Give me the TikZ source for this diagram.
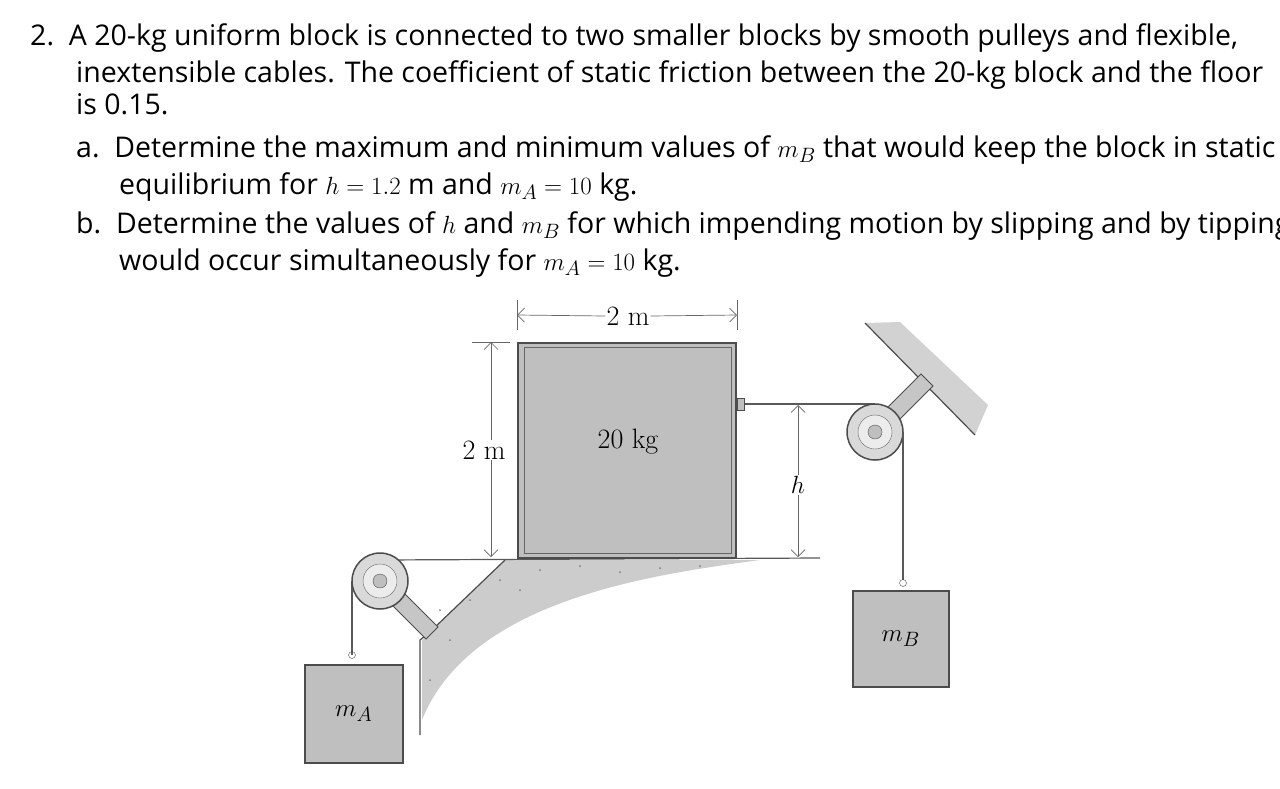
\documentclass[tikz,border=0pt]{standalone}
\usepackage{fontspec}
\setmainfont{Open Sans}
\newfontfamily\lmr{Latin Modern Roman}
\usepackage{amsmath}
\usetikzlibrary{arrows.meta}
\begin{document}
\begin{tikzpicture}[x=1pt,y=-1pt,
  txt/.style={anchor=base west,inner sep=0,font=\fontsize{28.5}{32}\selectfont},
  lbl/.style={inner sep=1,font=\fontsize{28}{30}\selectfont\lmr},
  blk/.style={draw=black!70,line width=1.5,fill=gray!50},
  rope/.style={draw=black!65,line width=1.2},
  dim/.style={draw=black!60,line width=0.7},
  dimar/.style={dim,-{Straight Barb[length=7pt]}},
  pul/.style={draw=black!70,line width=1.5,fill=gray!30},
  arm/.style={draw=black!70,line width=1,fill=gray!45}]
\useasboundingbox (0,0) rectangle (1280,788);
% text
\node[txt] (t1) at (30,45) {2.\ \ A 20-kg uniform block is connected to two smaller blocks by smooth pulleys and flexible,};
\node[txt] (t2) at (76,82) {inextensible cables. The coefficient of static friction between the 20-kg block and the floor};
\node[txt] (t3) at (76,114) {is 0.15.};
\node[txt] (a1) at (76,157) {a.\ \ Determine the maximum and minimum values of $m_B$ that would keep the block in static};
\node[txt] (a2) at (119,194) {equilibrium for $h=1.2$ m and $m_A=10$ kg.};
\node[txt] (b1) at (76,233) {b.\ \ Determine the values of $h$ and $m_B$ for which impending motion by slipping and by tipping};
\node[txt] (b2) at (119,270) {would occur simultaneously for $m_A=10$ kg.};
% ground
\fill[gray!40] (505,560) -- (760,560) .. controls (650,575) and (470,600) .. (422,720) -- (422,640) -- (432,630) -- cycle;
\draw[black!70,line width=1.2] (505,560) -- (432,630) -- (420,640) -- (420,735);
\foreach \p in {(540,570),(580,566),(620,572),(470,600),(450,640),(500,580),(660,568),(700,566),(430,680),(440,610),(520,590)}
  \fill[black!50] \p circle (1);
% floor / rope left
\draw[rope] (380,560) -- (820,558);
% big block
\node[blk,minimum width=218,minimum height=215,anchor=north west,inner sep=0] (B) at (517,342) {};
\draw[black!60,line width=0.8] (524,347) rectangle (731,553);
\node[lbl] (kg) at (628,442) {20 kg};
% top dimension
\draw[dim] (517,300) -- (517,330) (737,300) -- (737,330);
\node[lbl] (d2) at (628,316) {2 m};
\draw[dimar] (d2.west) -- (517,315);
\draw[dimar] (d2.east) -- (737,315);
% left dimension
\draw[dim] (472,342) -- (510,342);
\draw[dim,{Straight Barb[length=7pt]}-{Straight Barb[length=7pt]}] (491,342) -- (491,557);
\node[lbl,fill=white] (dl) at (484,450) {2 m};
% left pulley
\coordinate (PA) at (380,581);
\draw[rope] (352,581) -- (352,655);
\draw[black!70] (352,655) circle (3.5);
\node[blk,minimum width=98,minimum height=98,anchor=north west,inner sep=0] (mA) at (304,664) {};
\node[lbl,font=\fontsize{32}{34}\selectfont] at (mA.center) {$m_A$};
\draw[arm] (PA) ++(-6,6) -- ++(52,52) -- ++(12,-12) -- ++(-52,-52) -- cycle;
\draw[pul] (PA) circle (28);
\draw[black!60,fill=gray!15] (PA) circle (17);
\draw[black!70,fill=gray!50] (PA) circle (7);
% right side
\draw[rope] (737,404) -- (875,404);
\draw[black!70,fill=gray!50] (737,398) rectangle (744,410);
\fill[gray!35] (865,323) -- (975,435) -- (988,405) -- (900,322) -- cycle;
\draw[black!70,line width=1.2] (865,323) -- (975,435);
\coordinate (PB) at (875,432);
\draw[arm] (PB) ++(-6,-6) -- ++(52,-52) -- ++(12,12) -- ++(-52,52) -- cycle;
\draw[pul] (PB) circle (28);
\draw[black!60,fill=gray!15] (PB) circle (17);
\draw[black!70,fill=gray!50] (PB) circle (7);
\draw[rope] (903,432) -- (903,580);
\draw[black!70] (903,583) circle (3.5);
\node[blk,minimum width=96,minimum height=96,anchor=north west,inner sep=0] (mB) at (852,590) {};
\node[lbl,font=\fontsize{32}{34}\selectfont] at (mB.center) {$m_B$};
\node[lbl] (hl) at (798,485) {$h$};
\draw[dimar] (hl.north) -- (798,405);
\draw[dimar] (hl.south) -- (798,557);
\end{tikzpicture}
\end{document}
